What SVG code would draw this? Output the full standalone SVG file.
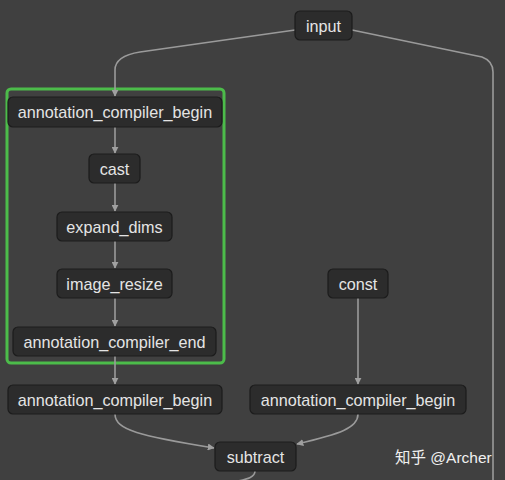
<svg xmlns="http://www.w3.org/2000/svg" width="505" height="480" viewBox="0 0 505 480">
<style>
.n rect{fill:#2c2c2c;stroke:#1c1c1c;stroke-width:1.2}
.n text{fill:#e4e4e4;font-family:"Liberation Sans",Arial,sans-serif;font-size:16.2px;text-anchor:middle}
.e path{fill:none;stroke:#9a9a9a;stroke-width:1.6}
</style>
<defs>
<marker id="ah" viewBox="0 0 10 10" refX="9" refY="5" markerWidth="7" markerHeight="7" markerUnits="userSpaceOnUse" orient="auto">
<path d="M0,0 L10,5 L0,10 z" fill="#a0a0a0"/>
</marker>
</defs>
<rect width="505" height="480" fill="#404040"/>
<g id="cluster">
<rect x="7" y="89" width="217" height="274" rx="4" fill="none" stroke="#4cbc4a" stroke-width="3"/>
</g>
<g class="e" id="edges">
<path d="M295,30 L140,52 Q115,56 115,70 L115,96" marker-end="url(#ah)"/>
<path d="M352,30 L482,57 Q493,61 493,72 L493,480"/>
<path d="M115,127 L115,153" marker-end="url(#ah)"/>
<path d="M115,183 L115,211" marker-end="url(#ah)"/>
<path d="M115,241 L115,268" marker-end="url(#ah)"/>
<path d="M115,298 L115,326" marker-end="url(#ah)"/>
<path d="M115,356 L115,384" marker-end="url(#ah)"/>
<path d="M358,298 L358,384" marker-end="url(#ah)"/>
<path d="M115,414 C115,430 140,436 214,448" marker-end="url(#ah)"/>
<path d="M358,414 C358,428 340,434 297,444" marker-end="url(#ah)"/>
<path d="M255,471 C255,477 248,479 238,481"/>
</g>
<g class="n" id="input"><rect x="295" y="11" width="57" height="29" rx="5"/><text x="323.5" y="31.5">input</text></g>
<g class="n" id="acb1"><rect x="8" y="97" width="214" height="30" rx="5"/><text x="115" y="118">annotation_compiler_begin</text></g>
<g class="n" id="cast"><rect x="89" y="154" width="51" height="29" rx="5"/><text x="114.5" y="175">cast</text></g>
<g class="n" id="expand_dims"><rect x="57" y="212" width="115" height="29" rx="5"/><text x="114.5" y="233">expand_dims</text></g>
<g class="n" id="image_resize"><rect x="57" y="269" width="115" height="29" rx="5"/><text x="114.5" y="290">image_resize</text></g>
<g class="n" id="ace"><rect x="13" y="327" width="203" height="29" rx="5"/><text x="114.5" y="348">annotation_compiler_end</text></g>
<g class="n" id="const"><rect x="328" y="269" width="60" height="29" rx="5"/><text x="358" y="290">const</text></g>
<g class="n" id="acb2"><rect x="8" y="385" width="214" height="29" rx="5"/><text x="115" y="406">annotation_compiler_begin</text></g>
<g class="n" id="acb3"><rect x="250" y="385" width="216" height="29" rx="5"/><text x="358" y="406">annotation_compiler_begin</text></g>
<g class="n" id="subtract"><rect x="215" y="442" width="81" height="29" rx="5"/><text x="255.5" y="463">subtract</text></g>
<text x="395" y="463" fill="#f0f0f0" font-family="'Liberation Sans','Noto Sans CJK SC',sans-serif" font-size="15.5">知乎 @Archer</text>
</svg>
